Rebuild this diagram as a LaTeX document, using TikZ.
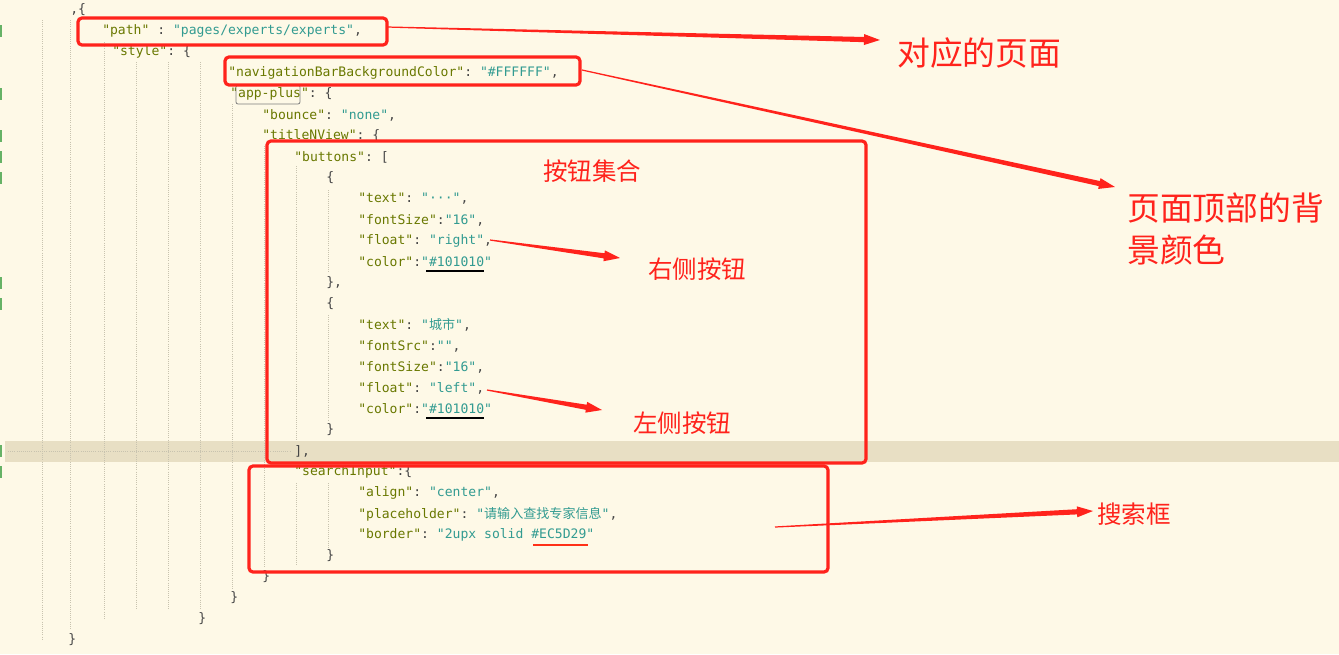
\documentclass[tikz,border=0pt]{standalone}
\usepackage{fontspec}
\setmonofont{DejaVu Sans Mono}
\newfontfamily\cjk{Noto Sans CJK SC}
\newfontfamily\cjkmono{Noto Sans CJK SC}
\definecolor{bg}{RGB}{254,249,231}
\definecolor{hl}{RGB}{232,223,196}
\definecolor{keyc}{RGB}{105,120,0}
\definecolor{strc}{RGB}{50,155,145}
\definecolor{punc}{RGB}{70,70,70}
\definecolor{annot}{RGB}{255,35,28}
\definecolor{guide}{RGB}{200,195,175}
\newcommand\K[1]{\textcolor{keyc}{"#1"}}
\newcommand\Sv[1]{\textcolor{strc}{"#1"}}
\newcommand\tarrow[4]{%
  \pgfmathsetmacro\tang{atan2(-(#4-#2),#3-#1)}%
  \pgfmathsetmacro\tlen{veclen(#3-#1,#4-#2)}%
  \fill[annot,shift={(#1,-#2)},rotate=\tang] (0,-0.6)--(\tlen-16,-2.6)--(\tlen-16,-5.5)--(\tlen,0)--(\tlen-16,5.5)--(\tlen-16,2.6)--(0,0.6)--cycle;}
\begin{document}
\begin{tikzpicture}[x=0.75pt,y=0.75pt,
  code/.style={anchor=west,inner sep=0pt,font=\ttfamily\fontsize{9.8}{12}\selectfont,text=punc},
  lab/.style={anchor=west,inner sep=0pt,text=annot,font=\cjk\fontsize{18.4}{22}\selectfont},
  biglab/.style={anchor=west,inner sep=0pt,text=annot,font=\cjk\fontsize{24.6}{30}\selectfont},
  redbox/.style={draw=annot,line width=2.4pt,rounded corners=3pt}]
\fill[bg] (0,0) rectangle (1339,-654);
\useasboundingbox (0,0) rectangle (1339,-654);
\fill[hl] (5,-441) rectangle (1339,-462);
% gutter marks
\foreach \yy in {31,94,136,157,178,283,304,451,472}{\fill[green!50!black!60] (0,-\yy+6) rectangle (2,-\yy-6);}
% indent guides
\foreach \xx/\ya/\yb in {42/20/640,70/20/630,104/42/620,136/62/610,168/62/610,200/62/610,232/104/590,264/146/567,296/166/440,328/190/272,328/315/420,296/483/565,328/483/550}{
  \draw[guide,densely dotted,line width=0.6pt] (\xx,-\ya) -- (\xx,-\yb);}
\draw[guide,densely dotted,line width=0.6pt] (8,-451) -- (290,-451);
% code
\node[code] (l0) at (70,-10) {,\{};
\node[code] (l1) at (102,-31) {\K{path} : \Sv{pages/experts/experts},};
\node[code] (l2) at (112,-52) {\K{style}: \{};
\node[code] (l3) at (228,-73) {\K{navigationBarBackgroundColor}: \Sv{\#FFFFFF},};
\node[code] (l4) at (230,-94) {\textcolor{keyc}{"app-plus"}: \{};
\draw[punc!70,line width=0.6pt,rounded corners=1.5pt] (236,-85) rectangle (300,-104);
\node[code] at (262,-115) {\K{bounce}: \Sv{none},};
\node[code] at (262,-136) {\K{titleNView}: \{};
\node[code] at (294,-157) {\K{buttons}: [};
\node[code] at (326,-178) {\{};
\node[code] at (358,-199) {\K{text}: \Sv{···},};
\node[code] at (358,-220) {\K{fontSize}:\Sv{16},};
\node[code] (fr) at (358,-241) {\K{float}: \Sv{right},};
\node[code] (c1) at (358,-262) {\K{color}:\Sv{\#101010}};
\draw[black,line width=1.2pt] (426,-271) -- (484,-271);
\node[code] at (326,-283) {\},};
\node[code] at (326,-304) {\{};
\node[code] at (358,-325) {\K{text}: \textcolor{strc}{"{\cjkmono 城市}"},};
\node[code] at (358,-346) {\K{fontSrc}:\Sv{},};
\node[code] at (358,-367) {\K{fontSize}:\Sv{16},};
\node[code] (fl) at (358,-388) {\K{float}: \Sv{left},};
\node[code] at (358,-409) {\K{color}:\Sv{\#101010}};
\draw[black,line width=1.2pt] (426,-418) -- (484,-418);
\node[code] at (326,-430) {\}};
\node[code] at (294,-451) {],};
\node[code] at (294,-472) {\K{searchInput}:\{};
\node[code] at (358,-493) {\K{align}: \Sv{center},};
\node[code] at (358,-514) {\K{placeholder}: \textcolor{strc}{"{\cjkmono 请输入查找专家信息}"},};
\node[code] at (358,-535) {\K{border}: \Sv{2upx solid \#EC5D29}};
\draw[annot!85!orange,line width=1.2pt] (533,-545) -- (588,-545);
\node[code] at (326,-556) {\}};
\node[code] at (262,-577) {\}};
\node[code] at (230,-598) {\}};
\node[code] at (198,-619) {\}};
\node[code] at (68,-640) {\}};
% red boxes
\draw[redbox] (78,-18) rectangle (387,-45);
\draw[redbox] (225,-57) rectangle (580,-85);
\draw[redbox] (267,-141) rectangle (866,-463);
\draw[redbox] (249,-466) rectangle (828,-572);
% arrows
\tarrow{387}{27}{880}{40}
\tarrow{582}{70}{1115}{187}
\tarrow{490}{240}{620}{258}
\tarrow{487}{390}{602}{410}
\tarrow{775}{527}{1093}{511}
% labels
\node[biglab] (a1) at (897,-53) {对应的页面};
\node[biglab] (a2) at (1127,-208) {页面顶部的背};
\node[biglab] (a3) at (1127,-250) {景颜色};
\node[lab] (a4) at (543,-171) {按钮集合};
\node[lab] (a5) at (648,-269) {右侧按钮};
\node[lab] (a6) at (633,-423) {左侧按钮};
\node[lab] (a7) at (1097,-514) {搜索框};
\end{tikzpicture}
\end{document}
